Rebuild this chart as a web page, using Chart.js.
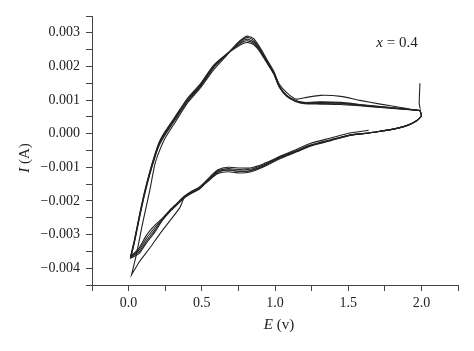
<!DOCTYPE html>
<html>
<head>
<meta charset="utf-8">
<script src="https://cdn.jsdelivr.net/npm/chart.js"></script>
<style>
  html, body { margin: 0; padding: 0; background: #fff; }
  #cv { display: block; }
</style>
</head>
<body>
<canvas id="cv" width="474" height="351"></canvas>
<script>
// potential grids (V)
const eAnodic = [0.014, 0.04, 0.075, 0.11, 0.145, 0.18, 0.21, 0.25, 0.315, 0.40, 0.49, 0.58, 0.67, 0.74, 0.79, 0.815, 0.856, 0.90, 0.94, 0.99, 1.03, 1.08, 1.14, 1.20, 1.31, 1.45, 1.58, 1.72, 1.86, 1.99];
const eCathodic = [1.99, 2.0, 1.97, 1.90, 1.79, 1.67, 1.64, 1.51, 1.38, 1.24, 1.15, 1.03, 0.92, 0.83, 0.76, 0.68, 0.61, 0.57, 0.52, 0.48, 0.43, 0.38, 0.33, 0.28, 0.23, 0.18, 0.12, 0.075, 0.034, 0.014];

// currents (A), cycles 2-5
const iUp2 = [-0.0037, -0.00323, -0.00249, -0.0018, -0.00121, -0.0007, -0.00034, -0.00003, 0.0004, 0.00095, 0.0014, 0.00196, 0.00235, 0.00267, 0.00283, 0.00286, 0.00277, 0.00251, 0.0022, 0.00183, 0.00141, 0.00114, 0.00099, 0.00093, 0.00095, 0.00093, 0.00087, 0.00081, 0.00075, 0.00069];
const iUp3 = [-0.00368, -0.0032, -0.00246, -0.00177, -0.00118, -0.00067, -0.0003, 0.00001, 0.00043, 0.00098, 0.00142, 0.00199, 0.00236, 0.00264, 0.00279, 0.00281, 0.00272, 0.00248, 0.00218, 0.00182, 0.0014, 0.00113, 0.00098, 0.00092, 0.00093, 0.00091, 0.00086, 0.0008, 0.00075, 0.00069];
const iUp4 = [-0.00366, -0.00318, -0.00243, -0.00174, -0.00115, -0.00064, -0.00027, 0.00004, 0.00046, 0.00101, 0.00145, 0.00201, 0.00236, 0.00261, 0.00275, 0.00276, 0.00268, 0.00245, 0.00216, 0.0018, 0.00139, 0.00112, 0.00097, 0.0009, 0.0009, 0.00089, 0.00084, 0.00079, 0.00074, 0.00069];
const iUp5 = [-0.00364, -0.00316, -0.0024, -0.00171, -0.00112, -0.00061, -0.00024, 0.00007, 0.00049, 0.00104, 0.00148, 0.00203, 0.00237, 0.00258, 0.0027, 0.00271, 0.00264, 0.00242, 0.00214, 0.00179, 0.00138, 0.00111, 0.00096, 0.00089, 0.00088, 0.00087, 0.00083, 0.00078, 0.00073, 0.00069];

const iDown2 = [0.00069, 0.00054, 0.00039, 0.00024, 0.00012, 0.00004, 0.00002, -0.00005, -0.00021, -0.00037, -0.00054, -0.00075, -0.00099, -0.00114, -0.00117, -0.00113, -0.00118, -0.00131, -0.0015, -0.00166, -0.00177, -0.00191, -0.00212, -0.00233, -0.00258, -0.00292, -0.00326, -0.00355, -0.00366, -0.0037];
const iDown3 = [0.00069, 0.00054, 0.00039, 0.00024, 0.00012, 0.00004, 0.00002, -0.00005, -0.0002, -0.00036, -0.00052, -0.00073, -0.00096, -0.0011, -0.00112, -0.00108, -0.00114, -0.00128, -0.00148, -0.00164, -0.00175, -0.0019, -0.0021, -0.00231, -0.00256, -0.00286, -0.0032, -0.0035, -0.00362, -0.00368];
const iDown4 = [0.00069, 0.00054, 0.00039, 0.00024, 0.00012, 0.00004, 0.00002, -0.00004, -0.00019, -0.00035, -0.00051, -0.00071, -0.00093, -0.00106, -0.00107, -0.00104, -0.0011, -0.00125, -0.00146, -0.00162, -0.00173, -0.00188, -0.00209, -0.0023, -0.00254, -0.00279, -0.00312, -0.00344, -0.0036, -0.00366];
const iDown5 = [0.00069, 0.00054, 0.00039, 0.00024, 0.00012, 0.00004, 0.00002, -0.00004, -0.00018, -0.00034, -0.0005, -0.00069, -0.0009, -0.00102, -0.00102, -0.001, -0.00107, -0.00122, -0.00144, -0.0016, -0.00171, -0.00186, -0.00207, -0.00228, -0.00252, -0.00272, -0.00303, -0.00338, -0.00357, -0.00364];

// first cycle, starts at the step near 1.64 V and ends with the spike at 2.0 V
const eFirstDown = [1.64, 1.51, 1.38, 1.24, 1.15, 1.03, 0.92, 0.83, 0.76, 0.68, 0.61, 0.57, 0.52, 0.48, 0.43, 0.38, 0.35, 0.28, 0.21, 0.145, 0.075, 0.02];
const iFirstDown = [0.0001, 0.00002, -0.00013, -0.00029, -0.00046, -0.00068, -0.00096, -0.0011, -0.00112, -0.00108, -0.00114, -0.00128, -0.00148, -0.00164, -0.00176, -0.0019, -0.0022, -0.0026, -0.003, -0.0034, -0.0038, -0.0042];
const eFirstUp = [0.02, 0.055, 0.096, 0.144, 0.18, 0.21, 0.25, 0.315, 0.40, 0.49, 0.58, 0.67, 0.74, 0.79, 0.815, 0.856, 0.90, 0.94, 0.99, 1.03, 1.08, 1.14, 1.20, 1.31, 1.45, 1.58, 1.72, 1.86, 1.99, 1.985, 1.99];
const iFirstUp = [-0.0042, -0.00356, -0.00266, -0.0017, -0.0009, -0.00052, -0.00013, 0.00032, 0.0009, 0.00136, 0.0019, 0.00233, 0.00268, 0.00286, 0.0029, 0.00282, 0.00255, 0.00224, 0.00187, 0.00147, 0.00122, 0.00103, 0.00107, 0.00114, 0.00111, 0.00099, 0.00088, 0.00078, 0.00069, 0.0009, 0.0015];

const toPoints = (xs, ys) => xs.map((x, i) => ({ x: x, y: ys[i] }));

const cycles = [
  toPoints(eFirstDown, iFirstDown).concat(toPoints(eFirstUp, iFirstUp)),
  toPoints(eCathodic, iDown2).concat(toPoints(eAnodic, iUp2)),
  toPoints(eCathodic, iDown3).concat(toPoints(eAnodic, iUp3)),
  toPoints(eCathodic, iDown4).concat(toPoints(eAnodic, iUp4)),
  toPoints(eCathodic, iDown5).concat(toPoints(eAnodic, iUp5)),
];

const serif = '"Liberation Serif", "Times New Roman", serif';

// draws text made of italic / upright pieces, centred on (cx, cy)
const drawMixed = (ctx, parts, cx, cy, size) => {
  let total = 0;
  parts.forEach((p) => {
    ctx.font = (p.italic ? 'italic ' : '') + size + 'px ' + serif;
    p.w = ctx.measureText(p.t).width;
    total += p.w;
  });
  let x = cx - total / 2;
  parts.forEach((p) => {
    ctx.font = (p.italic ? 'italic ' : '') + size + 'px ' + serif;
    ctx.fillText(p.t, x, cy);
    x += p.w;
  });
};

const labelsPlugin = {
  id: 'labels',
  afterDraw(chart) {
    const ctx = chart.ctx;
    ctx.save();
    ctx.fillStyle = '#222';
    ctx.textAlign = 'left';
    ctx.textBaseline = 'middle';
    drawMixed(ctx, [{ t: 'E', italic: true }, { t: ' (v)' }], 279, 325, 15);
    drawMixed(ctx, [{ t: 'x', italic: true }, { t: ' = 0.4' }], 397, 43, 15);
    ctx.translate(25, 158);
    ctx.rotate(-Math.PI / 2);
    drawMixed(ctx, [{ t: 'I', italic: true }, { t: ' (A)' }], 0, 0, 15);
    ctx.restore();
  },
};

new Chart(document.getElementById('cv'), {
  type: 'scatter',
  data: {
    datasets: cycles.map((pts, i) => ({
      label: 'cycle ' + (i + 1),
      data: pts,
      showLine: true,
      pointRadius: 0,
      borderColor: '#222',
      borderWidth: 1.1,
      tension: 0.2,
      fill: false,
    })),
  },
  options: {
    responsive: false,
    animation: false,
    devicePixelRatio: 1,
    layout: { padding: { top: 16, right: 16, left: 0, bottom: 0 } },
    plugins: { legend: { display: false }, tooltip: { enabled: false } },
    scales: {
      x: {
        type: 'linear',
        min: -0.25,
        max: 2.25,
        afterFit: (scale) => { scale.height = 66; },
        grid: { drawOnChartArea: false, tickLength: 6, color: '#444' },
        border: { color: '#444', width: 1 },
        ticks: {
          stepSize: 0.25,
          autoSkip: false,
          maxRotation: 0,
          padding: 4,
          color: '#222',
          font: { family: serif, size: 14 },
          callback: (v) => {
            const q = Math.round(v * 4);
            return q % 2 === 0 ? (q / 4).toFixed(1) : '';
          },
        },
      },
      y: {
        type: 'linear',
        min: -0.0045,
        max: 0.0035,
        afterFit: (scale) => { scale.width = 92; },
        grid: { drawOnChartArea: false, tickLength: 6, color: '#444' },
        border: { color: '#444', width: 1 },
        ticks: {
          stepSize: 0.0005,
          autoSkip: false,
          padding: 6,
          color: '#222',
          font: { family: serif, size: 14 },
          callback: (v) => {
            const q = Math.round(v * 2000);
            if (q % 2 !== 0) return '';
            const s = (q / 2000).toFixed(3);
            return q < 0 ? '\u2212' + s.slice(1) : s;
          },
        },
      },
    },
  },
  plugins: [labelsPlugin],
});
</script>
</body>
</html>
